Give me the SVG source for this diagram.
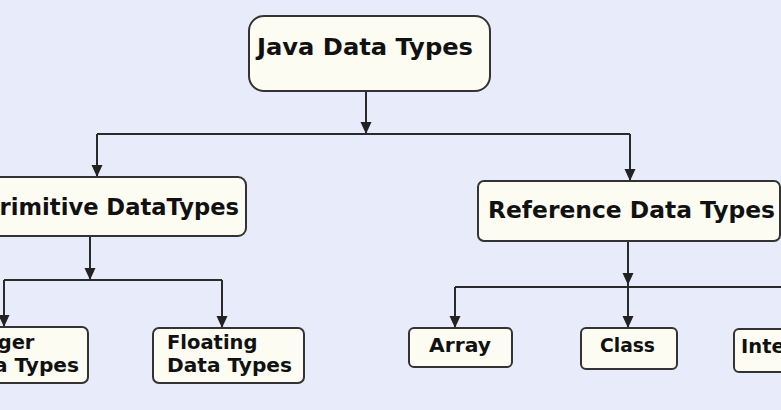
<svg xmlns="http://www.w3.org/2000/svg" width="781" height="410" viewBox="0 0 781 410">
  <defs>
    <marker id="arr" viewBox="0 0 12 12" refX="12" refY="6" markerWidth="12" markerHeight="12" markerUnits="userSpaceOnUse" orient="auto">
      <path d="M0,0.5 L12,6 L0,11.5 z" fill="#222"/>
    </marker>
  </defs>
  <style>
    .node { fill: #fcfcf2; stroke: #333; stroke-width: 2; }
    .lbl { font-family: "DejaVu Sans", Verdana, sans-serif; font-weight: bold; fill: #111; }
    .big { font-size: 23px; }
    .small { font-size: 19.5px; }
    .conn { fill: none; stroke: #2a2a2a; stroke-width: 2; }
  </style>
  <rect width="781" height="410" fill="#e8ebfa"/>

  <g id="connectors">
    <line class="conn" x1="366" y1="91" x2="366" y2="134" marker-end="url(#arr)"/>
    <line class="conn" x1="97" y1="134" x2="630" y2="134"/>
    <line class="conn" x1="97" y1="134" x2="97" y2="177" marker-end="url(#arr)"/>
    <line class="conn" x1="630" y1="134" x2="630" y2="181" marker-end="url(#arr)"/>
    <line class="conn" x1="90" y1="236" x2="90" y2="280" marker-end="url(#arr)"/>
    <line class="conn" x1="4" y1="280" x2="222" y2="280"/>
    <line class="conn" x1="4" y1="280" x2="4" y2="327" marker-end="url(#arr)"/>
    <line class="conn" x1="222" y1="280" x2="222" y2="328" marker-end="url(#arr)"/>
    <line class="conn" x1="628" y1="241" x2="628" y2="285" marker-end="url(#arr)"/>
    <line class="conn" x1="455" y1="287" x2="800" y2="287"/>
    <line class="conn" x1="455" y1="287" x2="455" y2="328" marker-end="url(#arr)"/>
    <line class="conn" x1="628" y1="285" x2="628" y2="328" marker-end="url(#arr)"/>
  </g>

  <g id="java">
    <rect class="node" x="249" y="16" width="241" height="75" rx="15"/>
    <text class="lbl big" x="257" y="55" textLength="216" lengthAdjust="spacingAndGlyphs">Java Data Types</text>
  </g>

  <g id="primitive">
    <rect class="node" x="-60" y="177" width="306" height="59" rx="8"/>
    <text class="lbl big" x="-17" y="215" textLength="256" lengthAdjust="spacingAndGlyphs">Primitive DataTypes</text>
  </g>

  <g id="reference">
    <rect class="node" x="478" y="181" width="302" height="60" rx="6"/>
    <text class="lbl big" x="488" y="218" textLength="287" lengthAdjust="spacingAndGlyphs">Reference Data Types</text>
  </g>

  <g id="integer">
    <rect class="node" x="-70" y="327" width="158" height="56" rx="6"/>
    <text class="lbl small" x="-46" y="349">Integer</text>
    <text class="lbl small" x="-46" y="372" textLength="125" lengthAdjust="spacingAndGlyphs">Data Types</text>
  </g>

  <g id="floating">
    <rect class="node" x="153" y="328" width="151" height="55" rx="6"/>
    <text class="lbl small" x="167" y="349">Floating</text>
    <text class="lbl small" x="167" y="372" textLength="125" lengthAdjust="spacingAndGlyphs">Data Types</text>
  </g>

  <g id="array">
    <rect class="node" x="409" y="328" width="103" height="39" rx="5"/>
    <text class="lbl small" x="429" y="352" textLength="62" lengthAdjust="spacingAndGlyphs">Array</text>
  </g>

  <g id="class">
    <rect class="node" x="581" y="328" width="96" height="41" rx="5"/>
    <text class="lbl small" x="600" y="352" textLength="55" lengthAdjust="spacingAndGlyphs">Class</text>
  </g>

  <g id="interface">
    <rect class="node" x="734" y="329" width="120" height="43" rx="5"/>
    <text class="lbl small" x="741" y="353">Interface</text>
  </g>
</svg>
